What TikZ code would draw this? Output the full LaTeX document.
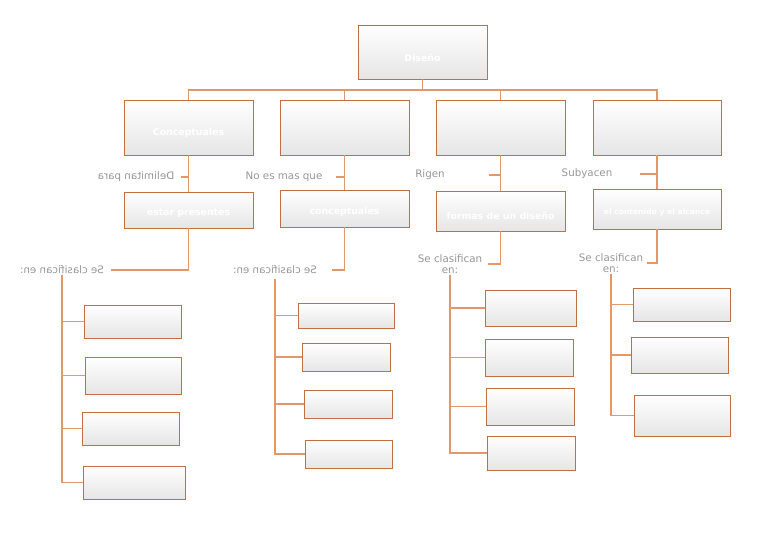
\documentclass[tikz,border=0pt]{standalone}
\usepackage{fontspec}
\setmainfont{DejaVu Sans}
\usepackage{tikz}
\usetikzlibrary{fit,shadows,calc}
\definecolor{cobre}{RGB}{196,112,62}
\definecolor{linea}{RGB}{228,152,104}
\definecolor{rotulo}{RGB}{150,150,150}
\tikzset{
  caja/.style={draw=cobre,line width=0.8pt,inner sep=0pt,outer sep=0pt,
    top color=white,middle color=white,bottom color=black!10,
    drop shadow={shadow xshift=0.7pt,shadow yshift=-0.9pt,opacity=0.45,fill=black}},
  blanco/.style={text=white,font=\bfseries\fontsize{8}{9}\selectfont,yshift=-5pt},
  conector/.style={draw=linea,line width=1.2pt},
  etiqueta/.style={text=rotulo,font=\fontsize{8.8}{9.5}\selectfont,inner sep=1pt,align=center},
  espejo/.style={etiqueta,xscale=-1}
}
\begin{document}
\begin{tikzpicture}[x=0.3mm,y=-0.3mm]
            \useasboundingbox (0,0) rectangle (768,543);
            % cajas principales
            \node[caja,fit={(358,25) (487,79)},label={[blanco]center:Diseño}] (diseno) {};
            \node[caja,fit={(124,100) (253,155)},label={[blanco]center:Conceptuales}] (concep) {};
            \node[caja,fit={(280,100) (409,155)}] (visual) {};
            \node[caja,fit={(436,100) (565,155)}] (relac) {};
            \node[caja,fit={(593,100) (721,155)}] (pract) {};
            \node[caja,fit={(124,192) (253,228)},label={[blanco,yshift=2pt]center:estar presentes}] (presentes) {};
            \node[caja,fit={(280,190) (409,227)},label={[blanco,yshift=2pt]center:conceptuales}] (conceptua) {};
            \node[caja,fit={(436,191) (565,231)},label={[blanco,yshift=1pt]center:formas de un diseño}] (formas) {};
            \node[caja,fit={(593,189) (721,229)},label={[blanco,yshift=2pt,font=\bfseries\fontsize{6.5}{8}\selectfont]center:el contenido y el alcance}] (contenido) {};
            % etiquetas
            \node[espejo] (delim) at (136,177) {Delimitan para};
            \node[etiqueta] (noes) at (284,177) {No es mas que};
            \node[etiqueta] (rigen) at (430,175) {Rigen};
            \node[etiqueta] (subya) at (587,174) {Subyacen};
            \node[espejo] (cls1) at (62,270) {Se clasifican en:};
            \node[espejo] (cls2) at (275,270) {Se clasifican en:};
            \node[etiqueta] (cls3) at (450,264) {Se clasifican\\en:};
            \node[etiqueta] (cls4) at (611,263) {Se clasifican\\en:};
            % cajas inferiores
            \node[caja,fit={(84,305) (181,338)}] (c1) {};
            \node[caja,fit={(85,357) (181,394)}] (c2) {};
            \node[caja,fit={(82,412) (179,445)}] (c3) {};
            \node[caja,fit={(83,466) (185,499)}] (c4) {};
            \node[caja,fit={(298,303) (394,328)}] (v1) {};
            \node[caja,fit={(302,343) (390,371)}] (v2) {};
            \node[caja,fit={(304,390) (392,418)}] (v3) {};
            \node[caja,fit={(305,440) (392,468)}] (v4) {};
            \node[caja,fit={(485,290) (576,326)}] (r1) {};
            \node[caja,fit={(485,339) (573,376)}] (r2) {};
            \node[caja,fit={(486,388) (574,425)}] (r3) {};
            \node[caja,fit={(487,436) (575,470)}] (r4) {};
            \node[caja,fit={(633,288) (730,321)}] (p1) {};
            \node[caja,fit={(631,337) (728,373)}] (p2) {};
            \node[caja,fit={(634,395) (730,436)}] (p3) {};
            % conectores
            \draw[conector] (diseno.south) -- (diseno.south |- 0,90);
            \draw[conector] (concep.north) |- (pract.north |- 0,90) -- (pract.north);
            \draw[conector] (visual.north) -- (visual.north |- 0,90);
            \draw[conector] (relac.north) -- (relac.north |- 0,90);
            \draw[conector] (concep.south) -- (presentes.north);
            \draw[conector] (visual.south) -- (conceptua.north);
            \draw[conector] (relac.south) -- (formas.north);
            \draw[conector] (pract.south) -- (contenido.north);
            \draw[conector] (concep.south |- delim) -- ++(-8,0);
            \draw[conector] (visual.south |- noes) -- ++(-9,0);
            \draw[conector] (relac.south |- rigen) -- ++(-12,0);
            \draw[conector] (pract.south |- subya) -- ++(-17,0);
            \draw[conector,shorten >=5pt] (presentes.south) |- (cls1.west);
            \draw[conector,shorten >=12pt] (conceptua.south) |- (cls2.west);
            \draw[conector,shorten >=4pt] (formas.south) |- (cls3.east);
            \draw[conector,shorten >=2pt] (contenido.south) |- (cls4.east);
            \draw[conector] (cls1.south) |- (c4.west);
            \draw[conector] (cls2.south) ++(0,4) |- (v4.west);
            \draw[conector] (cls3.south) |- (r4.west);
            \draw[conector] (cls4.south) |- (p3.west);
            \foreach \n/\x in {c1/63,c2/63,c3/63,v1/275,v2/275,v3/275,r1/450,r2/450,r3/450,p1/611,p2/611}
              \draw[conector] (\n.west) -- (\n.west -| \x,0);
        \end{tikzpicture}
\end{document}
